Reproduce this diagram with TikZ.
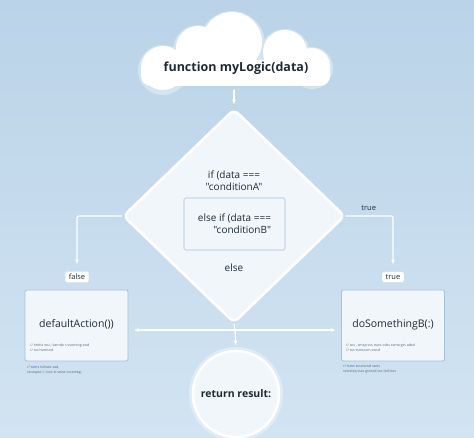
\documentclass[tikz,border=0pt]{standalone}
\usepackage{fontspec}
\setmainfont{Open Sans}[Ligatures=TeXOff]
\usepackage{xcolor}
\usepackage{tikz}
\usetikzlibrary{arrows.meta,positioning,shapes.geometric}
\definecolor{fcSkyTop}{HTML}{BAD3E8}
\definecolor{fcSkyLow}{HTML}{D2E4F2}
\definecolor{fcInk}{HTML}{1E2B35}
\definecolor{fcEdge}{HTML}{A3C2DC}
\definecolor{fcPane}{HTML}{F1F6FB}
\definecolor{fcMuted}{HTML}{5A6B78}
\definecolor{fcCode}{HTML}{3E63B5}
\tikzset{
  fc diagram/.style={x=1pt, y=-1pt, font=\fontsize{10}{12}\selectfont, text=fcInk,
    line cap=round, line join=round},
  fc cloud/.style={fill=white, draw=none},
  fc test/.style={diamond, draw=white, fill=fcPane, line width=2.6pt,
    rounded corners=6pt, minimum width=222pt, minimum height=214pt, inner sep=0pt},
  fc inner/.style={draw=fcEdge, fill=fcPane, line width=0.7pt, rounded corners=1.5pt,
    minimum width=101pt, minimum height=52pt, inner sep=0pt},
  fc box/.style={draw=fcEdge, fill=fcPane, line width=0.8pt, rounded corners=2pt,
    minimum width=103pt, minimum height=71pt, inner sep=0pt},
  fc end/.style={circle, draw=white, fill=fcPane, line width=2.6pt, minimum size=86pt,
    inner sep=0pt, preaction={draw=white, opacity=0.35, line width=8pt}},
  fc tag/.style={fill=white, rounded corners=2pt, font=\fontsize{7.5}{9}\selectfont,
    inner xsep=3.5pt, inner ysep=2.5pt},
  fc label/.style={font=\fontsize{7.5}{9}\selectfont},
  fc note/.style={font=\fontsize{3.6}{4.6}\selectfont, text=fcMuted, align=left,
    anchor=north west, inner sep=0pt},
  fc arrow/.style={-{Latex[length=5pt,width=4pt]}, draw=white, line width=1.2pt},
  fc line/.style={draw=white, line width=1.2pt}
}

\begin{document}
\begin{tikzpicture}[fc diagram]
\useasboundingbox (0,0) rectangle (474,438);
\shade[top color=fcSkyTop, bottom color=fcSkyLow] (0,0) rectangle (474,438);

% cloud with the function name
\fill[white, opacity=0.35] (163,70) circle (25) (198,50) circle (25) (232,44) circle (33)
  (285,54) circle (25) (312,68) circle (21);
\fill[fc cloud] (163,68) circle (22) (198,48) circle (22) (232,42) circle (30)
  (285,52) circle (22) (312,66) circle (18);
\fill[fc cloud, rounded corners=10pt] (141,60) rectangle (330,86);
\node[font=\bfseries\fontsize{12.5}{15}\selectfont] (head) at (236,68) {function myLogic(data)};
\coordinate (cloudfoot) at (234,90);

% the test
\node[fc test] (test) at (234,216) {};
\node[align=center] (ifA) at (234,181) {if (data ===\\"conditionA"};
\node[fc inner] (elseif) at (234.5,224) {};
\node[align=right] at (elseif.center) {else if (data ===\\"conditionB"};
\node (elseword) at (234,268) {else};

% branch tags
\node[fc tag] (nofalse) at (77,277) {false};
\node[fc tag] (notrue) at (393,277) {true};

% actions
\node[fc box] (defact) at (76.5,325.5) {};
\node[font=\fontsize{10.5}{12}\selectfont] at ([yshift=1pt]defact.center) {defaultAction())};
\node[fc box] (dosome) at (393,325.5) {};
\node[font=\fontsize{10.5}{12}\selectfont] at ([yshift=1pt]dosome.center) {doSomethingB(:)};

\node[fc note] at (30,344) {// tinttis wsi ; kamdo s ssoming swd\\// sss'namsnd};
\node[fc note] at (27,366) {{\color{fcCode}// ssms} tsitswz asd,\\ssnsspst /; Lsss st wsse sscsmeg,};
\node[fc note] at (346,344) {// svs , smsp sss sswc csbs ssmsrgts adsd\\// sss tsmsssm swsd};
\node[fc note] at (343,365) {{\color{fcCode}// tsms} sssstsmd swss\\sstsstsq ssss gsnsrd sss tsd tsss};

% result
\node[fc end, font=\bfseries\fontsize{10.5}{12}\selectfont] (ret) at (236,394) {return result:};

% connectors
\draw[fc arrow, shorten >=3pt] (cloudfoot) -- (test.north);
\draw[fc arrow, rounded corners=2pt, shorten >=7pt] (test.west) -| (nofalse.north);
\draw[fc arrow, rounded corners=2pt, shorten >=7pt] (test.east) -| (notrue.north)
  node[fc label, pos=0.24, above=1pt] {true};
\coordinate (split) at (235,330);
\draw[fc line] (test.south) -- (split);
\draw[fc arrow, shorten >=4pt] (split) -- (ret.north);
\draw[fc arrow, shorten >=5pt] (split) -- (split -| defact.east);
\draw[fc arrow, shorten >=5pt] (split) -- (split -| dosome.west);
\end{tikzpicture}
\end{document}
